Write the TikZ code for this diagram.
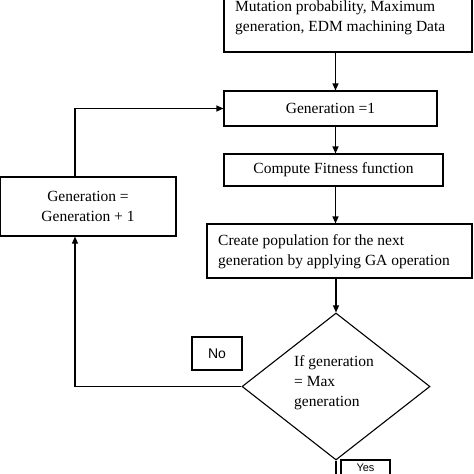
\documentclass[tikz,border=0pt]{standalone}
\usepackage{fontspec}
\setmainfont{Liberation Serif}
\newfontfamily\labelsans{Liberation Sans}
\usetikzlibrary{arrows.meta,shapes.geometric}
\begin{document}
\begin{tikzpicture}[x=1pt,y=-1pt,
  every node/.style={font=\fontsize{15.5}{20}\selectfont},
  box/.style={draw,line width=1.1pt,rectangle,inner sep=0pt},
  arr/.style={line width=1.1pt,-{Triangle[length=7pt,width=6pt]}},
  ln/.style={line width=1.1pt},
  tag/.style={draw,line width=1.1pt,inner sep=0pt,font=\labelsans\fontsize{14}{16}\selectfont}]
\useasboundingbox (0,0) rectangle (474,474);
\clip (0,0) rectangle (474,474);
\fill[white] (0,0) rectangle (474,474);
\coordinate (ax) at (335.5,0);
\coordinate (lx) at (75,0);
% boxes
\node[box,minimum width=248pt,minimum height=72pt] (init) at (348,16) {};
\node[anchor=west,align=left,inner sep=0pt] (initt) at (235,17.5) {Mutation probability, Maximum\\generation, EDM machining Data};
\node[box,minimum width=213pt,minimum height=35pt] (gen1) at (330.5,108.5) {Generation =1};
\node[box,minimum width=219pt,minimum height=32pt] (fit) at (333.5,170) {Compute Fitness function};
\node[box,minimum width=265pt,minimum height=54pt] (pop) at (339.5,251) {};
\node[anchor=west,align=left,inner sep=0pt] (popt) at (218,252) {Create population for the next\\generation by applying GA operation};
\node[draw,line width=1.1pt,diamond,inner sep=0pt,minimum width=188pt,minimum height=147pt] (dia) at (336,386.5) {};
\node[anchor=west,align=left,inner sep=0pt] (diat) at (294,383) {If generation\\= Max\\generation};
\node[box,minimum width=176pt,minimum height=59pt,align=center] (genp) at (88,206.5) {Generation =\\Generation + 1};
\node[tag,minimum width=50pt,minimum height=33pt] (no) at (217,353.5) {No};
\node[draw,line width=1.1pt,inner sep=0pt,minimum width=49pt,minimum height=33pt] (yes) at (365.5,476.5) {};
\node[inner sep=0pt,font=\labelsans\fontsize{11}{12}\selectfont] (yest) at (365.5,467.5) {Yes};
\coordinate (bot) at (336,500);
% connectors
\draw[arr] (init.south -| ax) -- (gen1.north -| ax);
\draw[arr] (gen1.south -| ax) -- (fit.north -| ax);
\draw[arr] (fit.south -| ax) -- (pop.north -| ax);
\draw[arr] (pop.south -| dia.north) -- (dia.north);
\draw[ln] (dia.south) -- (bot);
\draw[arr] (dia.west) -| (genp.south -| lx);
\draw[arr] (genp.north -| lx) |- (gen1.west);
\end{tikzpicture}
\end{document}
